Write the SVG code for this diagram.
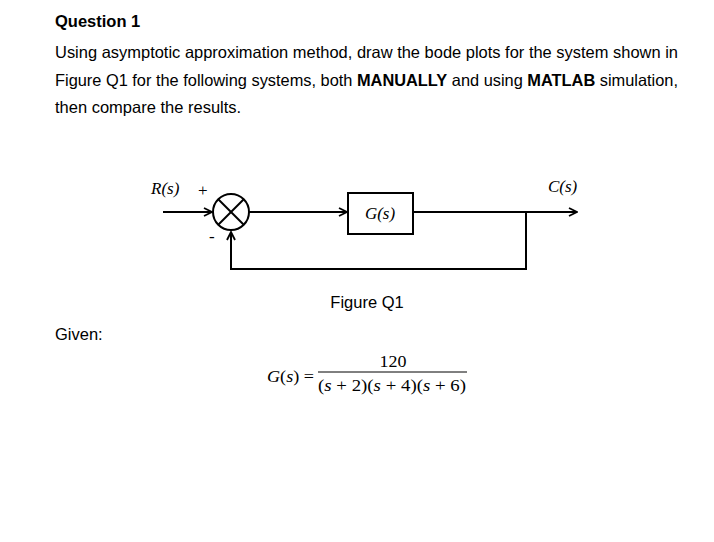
<svg xmlns="http://www.w3.org/2000/svg" width="714" height="542" viewBox="0 0 714 542">
<defs>
<style>
.t{font-family:"Liberation Sans",Arial,sans-serif;font-size:16.5px;fill:#000}
.m{font-family:"Liberation Serif","DejaVu Serif",serif;font-size:17px;fill:#000}
.l{stroke:#000;stroke-width:2;fill:none}
</style>
<marker id="a" markerWidth="10" markerHeight="10" refX="9" refY="5" orient="auto" markerUnits="userSpaceOnUse"><path d="M1,1 L9,5 L1,9" fill="none" stroke="#000" stroke-width="1.8"/></marker>
</defs>
<rect width="714" height="542" fill="#fff"/>
<text class="t" x="55" y="27" font-weight="bold">Question 1</text>
<text class="t" x="55" y="58" textLength="623" lengthAdjust="spacingAndGlyphs">Using asymptotic approximation method, draw the bode plots for the system shown in</text>
<text class="t" x="55" y="86" textLength="623" lengthAdjust="spacingAndGlyphs">Figure Q1 for the following systems, both <tspan font-weight="bold">MANUALLY</tspan> and using <tspan font-weight="bold">MATLAB</tspan> simulation,</text>
<text class="t" x="55" y="113">then compare the results.</text>
<g id="connectors">
<line class="l" x1="163" y1="212" x2="212" y2="212" marker-end="url(#a)"/>
<line class="l" x1="249" y1="212" x2="347" y2="212" marker-end="url(#a)"/>
<line class="l" x1="413" y1="212" x2="577" y2="212" marker-end="url(#a)"/>
<polyline class="l" points="526,212 526,269 231,269 231,232" marker-end="url(#a)"/>
</g>
<g id="sum">
<circle class="l" cx="231" cy="212" r="18"/>
<line class="l" x1="218" y1="199" x2="244" y2="225"/>
<line class="l" x1="244" y1="199" x2="218" y2="225"/>
<text class="m" x="198" y="196">+</text>
<text class="m" x="209" y="242">-</text>
</g>
<g id="G">
<rect class="l" x="348" y="193" width="65" height="41"/>
<text class="m" x="380" y="219" text-anchor="middle" font-style="italic" fill="#444">G(s)</text>
</g>
<text class="m" x="151" y="194" font-style="italic">R(s)</text>
<text class="m" x="548" y="192" font-style="italic">C(s)</text>
<text class="t" x="367" y="308" text-anchor="middle">Figure Q1</text>
<text class="t" x="55" y="340">Given:</text>
<text class="m" x="267" y="382" textLength="47" lengthAdjust="spacingAndGlyphs"><tspan font-style="italic">G</tspan>(<tspan font-style="italic">s</tspan>) =</text>
<text class="m" x="393" y="367" text-anchor="middle" textLength="27" lengthAdjust="spacingAndGlyphs">120</text>
<line x1="318" y1="372" x2="467" y2="372" stroke="#000" stroke-width="1"/>
<text class="m" x="318" y="391" textLength="148" lengthAdjust="spacingAndGlyphs">(<tspan font-style="italic">s</tspan> + 2)(<tspan font-style="italic">s</tspan> + 4)(<tspan font-style="italic">s</tspan> + 6)</text>
</svg>
